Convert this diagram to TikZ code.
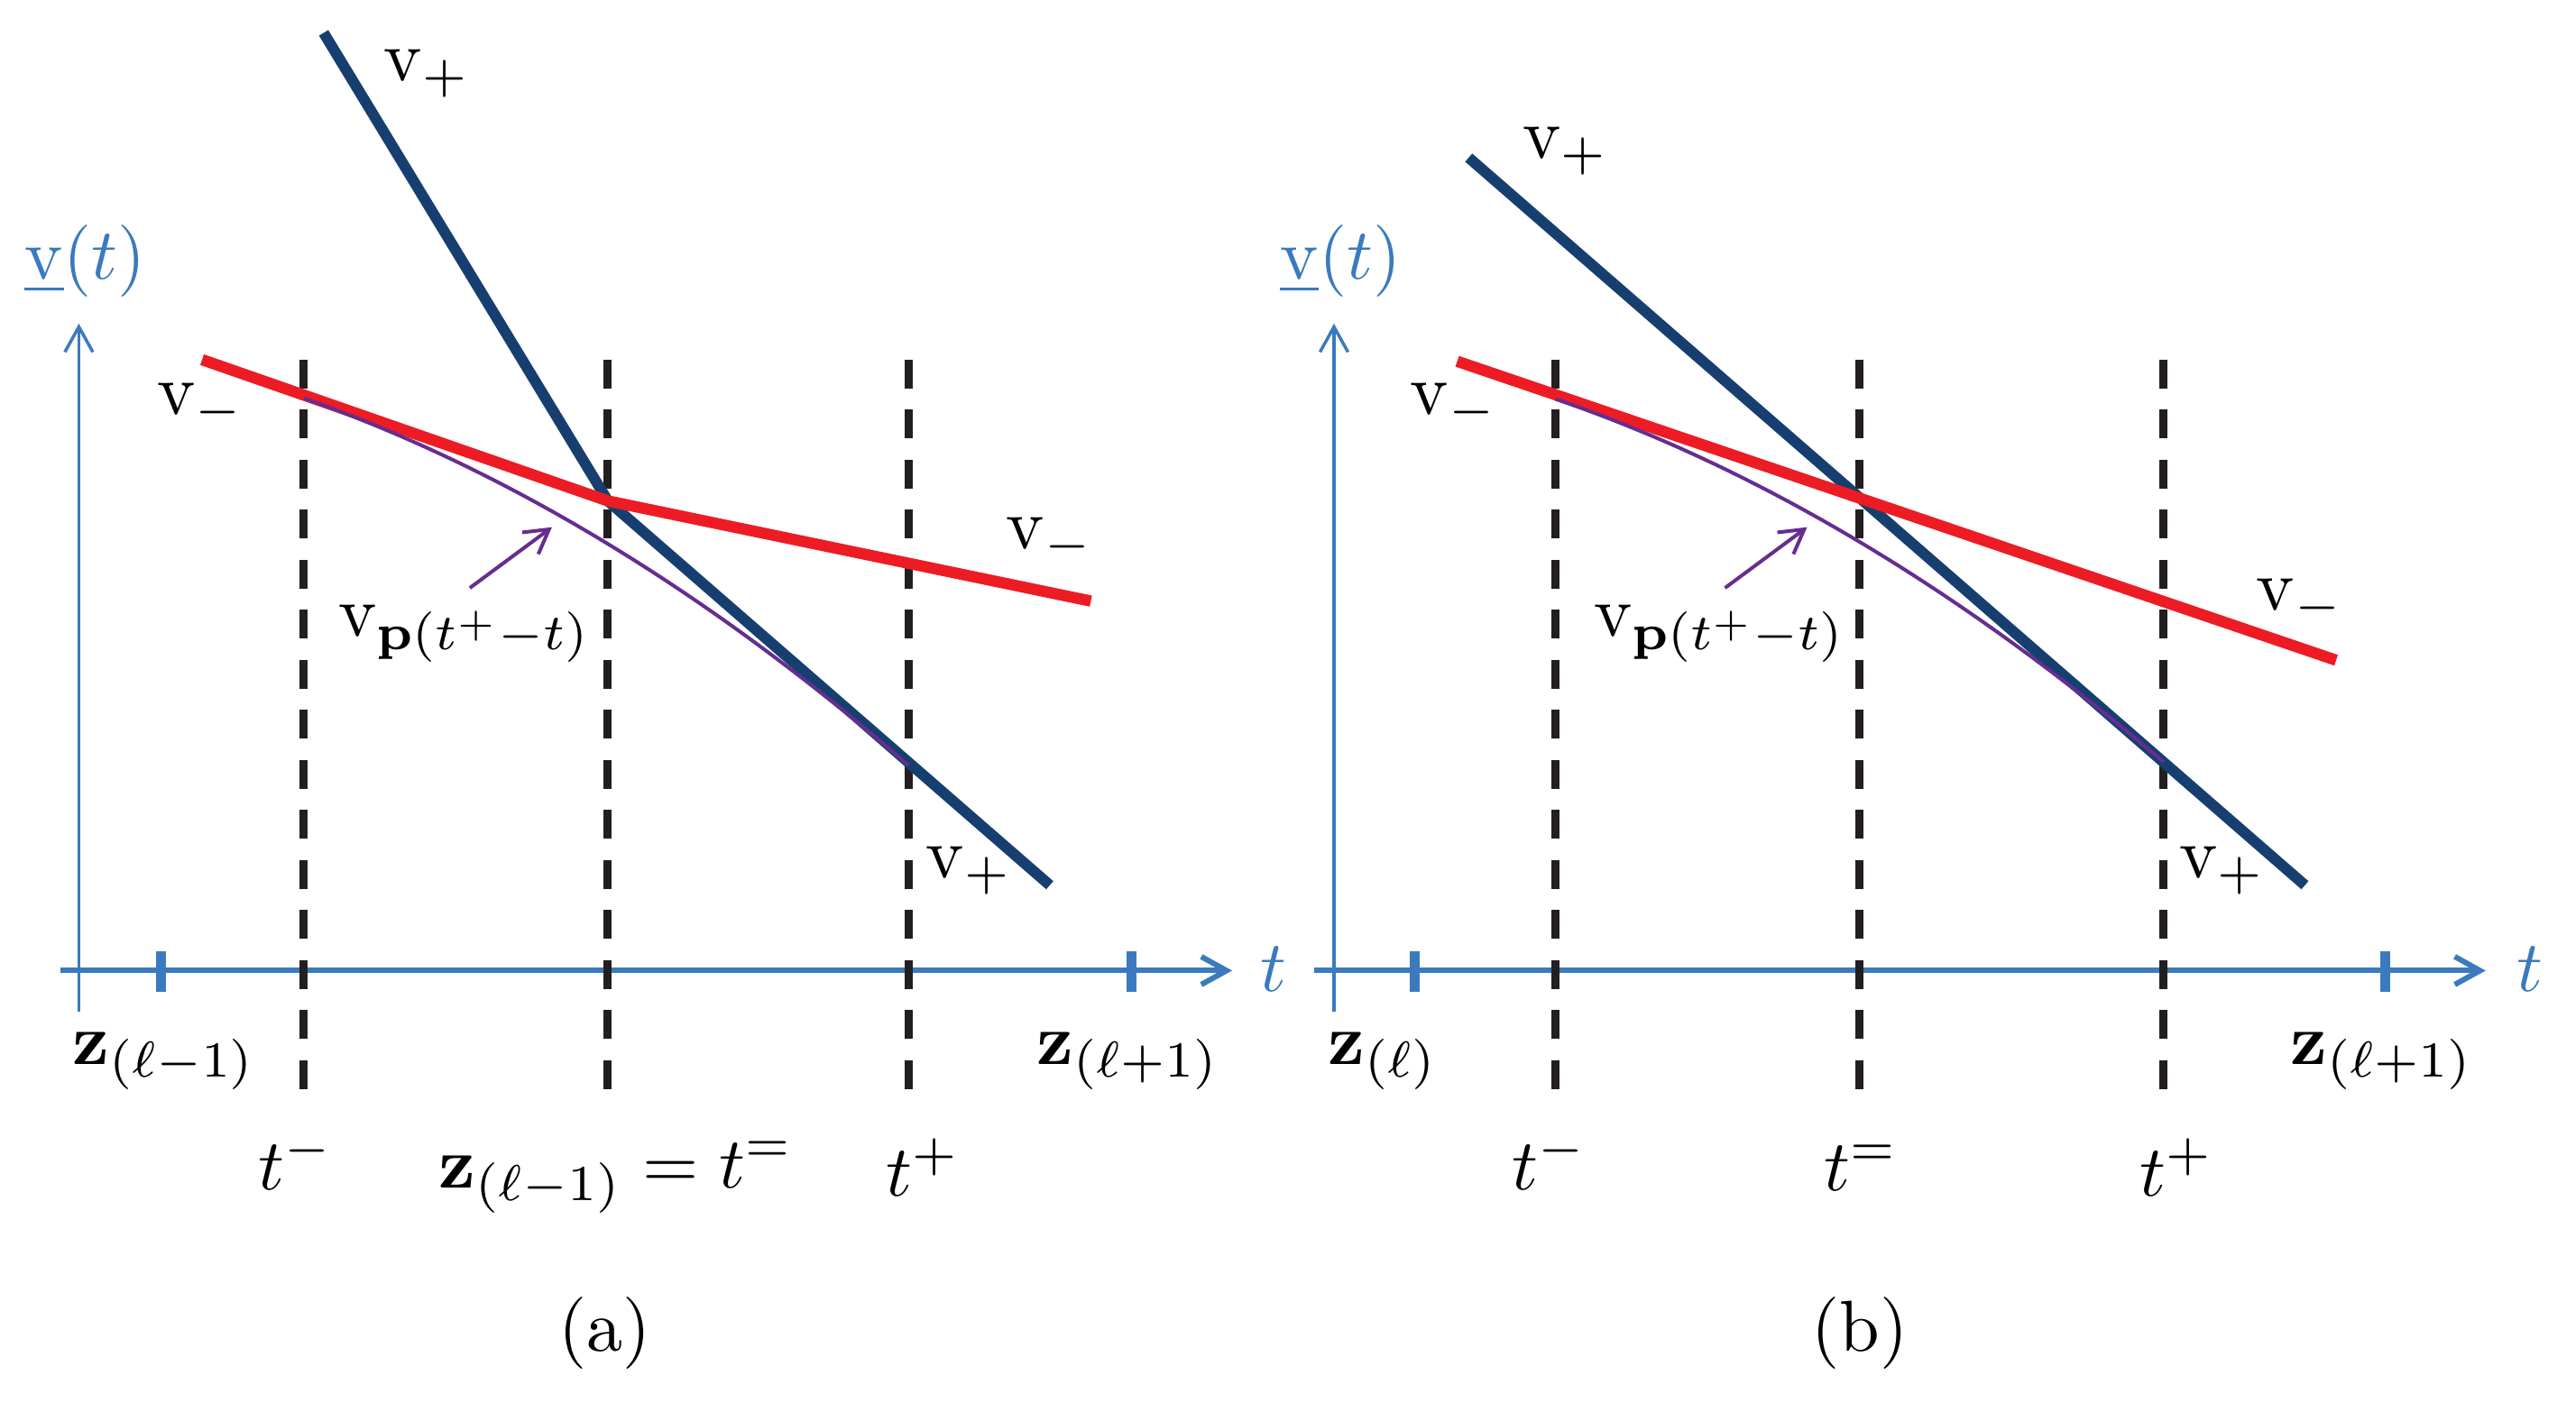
\documentclass[tikz,border=0pt]{standalone}
\usepackage{amsmath}
\usetikzlibrary{arrows.meta,calc}
\definecolor{axisblue}{RGB}{59,122,190}
\definecolor{vred}{RGB}{237,28,36}
\definecolor{vnavy}{RGB}{22,63,112}
\definecolor{vpurple}{RGB}{102,45,145}
\definecolor{dashgray}{RGB}{35,31,32}
\tikzset{
  axisline/.style={axisblue, line width=0.6pt, -{Straight Barb[length=2.8pt,width=3.1pt]}},
  vaxisline/.style={axisblue, line width=0.35pt, -{Straight Barb[length=2.8pt,width=3.1pt]}},
  tickmark/.style={axisblue, line width=1.1pt},
  guide/.style={dashgray, line width=0.9pt, dash pattern=on 3.2pt off 2.35pt},
  redline/.style={vred, line width=1.25pt},
  navyline/.style={vnavy, line width=1.2pt},
  curveline/.style={vpurple, line width=0.4pt},
  pointer/.style={vpurple, line width=0.4pt, -{Straight Barb[length=2.6pt,width=3pt]}},
  lbl/.style={inner sep=0pt, font=\fontsize{10}{12}\selectfont, scale=0.8, transform shape},
  axlbl/.style={lbl, text=axisblue},
}
\begin{document}
\begin{tikzpicture}[x=0.18214pt,y=-0.18214pt]
\useasboundingbox (0,0) rectangle (1568,854);

% ================= panel (a) =================
\coordinate (a-vbot) at (48,616);
\coordinate (a-vtop) at (48,197);
\coordinate (a-hl) at (37,591);
\coordinate (a-hr) at (750,591);
\draw[vaxisline] (a-vbot) -- (a-vtop);
\draw[axisline] (a-hl) -- (a-hr);
\draw[tickmark] (98,579) -- (98,604);
\draw[tickmark] (689,579) -- (689,604);
\draw[guide] (185,219) -- (185,663);
\draw[guide] (370,219) -- (370,663);
\draw[guide] (553,219) -- (553,663);

\coordinate (a-r0) at (123,219);
\coordinate (a-x) at (370,305);
\coordinate (a-r1) at (664,366);
\coordinate (a-b0) at (197,20);
\coordinate (a-b1) at (639,539);
\draw[navyline] (a-b0) -- (a-x) -- (a-b1);
\draw[redline] (a-r0) -- (a-x) -- (a-r1);

\coordinate (a-p0) at (185,242.5);
\coordinate (a-pc) at (370,307.5);
\coordinate (a-p2) at (553,466);
\draw[curveline] (a-p0) .. controls ($(a-p0)!0.6667!(a-pc)$) and ($(a-p2)!0.6667!(a-pc)$) .. (a-p2);
\coordinate (a-arT) at (286,358);
\coordinate (a-arH) at (336,321);
\draw[pointer] (a-arT) -- (a-arH);

\node[axlbl] (a-vt) at (52,159) {$\underline{\mathrm{v}}(t)$};
\node[axlbl] (a-tax) at (775,590) {$t$};
\node[lbl] (a-vpt) at (260,45) {$\mathrm{v}_+$};
\node[lbl] (a-vml) at (122,248) {$\mathrm{v}_-$};
\node[lbl] (a-vmr) at (639,330) {$\mathrm{v}_-$};
\node[lbl] (a-vpb) at (590,530) {$\mathrm{v}_+$};
\node[lbl] (a-vp) at (283,386) {$\mathrm{v}_{\mathbf{p}(t^+-t)}$};
\node[lbl] (a-z1) at (100,646) {$\mathbf{z}_{(\ell-1)}$};
\node[lbl] (a-z2) at (687,646) {$\mathbf{z}_{(\ell+1)}$};
\node[lbl] (a-tm) at (180,707) {$t^-$};
\node[lbl] (a-te) at (375,717) {$\mathbf{z}_{(\ell-1)}=t^=$};
\node[lbl] (a-tp) at (562,711) {$t^+$};
\node[lbl] (a-cap) at (368,812) {(a)};

% ================= panel (b) =================
\coordinate (b-vbot) at (812,616);
\coordinate (b-vtop) at (812,197);
\coordinate (b-hl) at (800,591);
\coordinate (b-hr) at (1513,591);
\draw[vaxisline] (b-vbot) -- (b-vtop);
\draw[axisline] (b-hl) -- (b-hr);
\draw[tickmark] (861,579) -- (861,604);
\draw[tickmark] (1452,579) -- (1452,604);
\draw[guide] (947,219) -- (947,663);
\draw[guide] (1132,219) -- (1132,663);
\draw[guide] (1317,219) -- (1317,663);

\coordinate (b-r0) at (887,220);
\coordinate (b-r1) at (1422,402);
\coordinate (b-b0) at (894,96);
\coordinate (b-b1) at (1403,539);
\draw[navyline] (b-b0) -- (b-b1);
\draw[redline] (b-r0) -- (b-r1);

\coordinate (b-p0) at (947,243);
\coordinate (b-pc) at (1132,306.5);
\coordinate (b-p2) at (1317,464);
\draw[curveline] (b-p0) .. controls ($(b-p0)!0.6667!(b-pc)$) and ($(b-p2)!0.6667!(b-pc)$) .. (b-p2);
\coordinate (b-arT) at (1050,358);
\coordinate (b-arH) at (1100,321);
\draw[pointer] (b-arT) -- (b-arH);

\node[axlbl] (b-vt) at (816,159) {$\underline{\mathrm{v}}(t)$};
\node[axlbl] (b-tax) at (1540,590) {$t$};
\node[lbl] (b-vpt) at (953,92) {$\mathrm{v}_+$};
\node[lbl] (b-vml) at (885,248) {$\mathrm{v}_-$};
\node[lbl] (b-vmr) at (1400,367) {$\mathrm{v}_-$};
\node[lbl] (b-vpb) at (1353,530) {$\mathrm{v}_+$};
\node[lbl] (b-vp) at (1047,386) {$\mathrm{v}_{\mathbf{p}(t^+-t)}$};
\node[lbl] (b-z1) at (842,646) {$\mathbf{z}_{(\ell)}$};
\node[lbl] (b-z2) at (1450,646) {$\mathbf{z}_{(\ell+1)}$};
\node[lbl] (b-tm) at (943,707) {$t^-$};
\node[lbl] (b-te) at (1133,711) {$t^=$};
\node[lbl] (b-tp) at (1325,711) {$t^+$};
\node[lbl] (b-cap) at (1132,812) {(b)};
\end{tikzpicture}
\end{document}
